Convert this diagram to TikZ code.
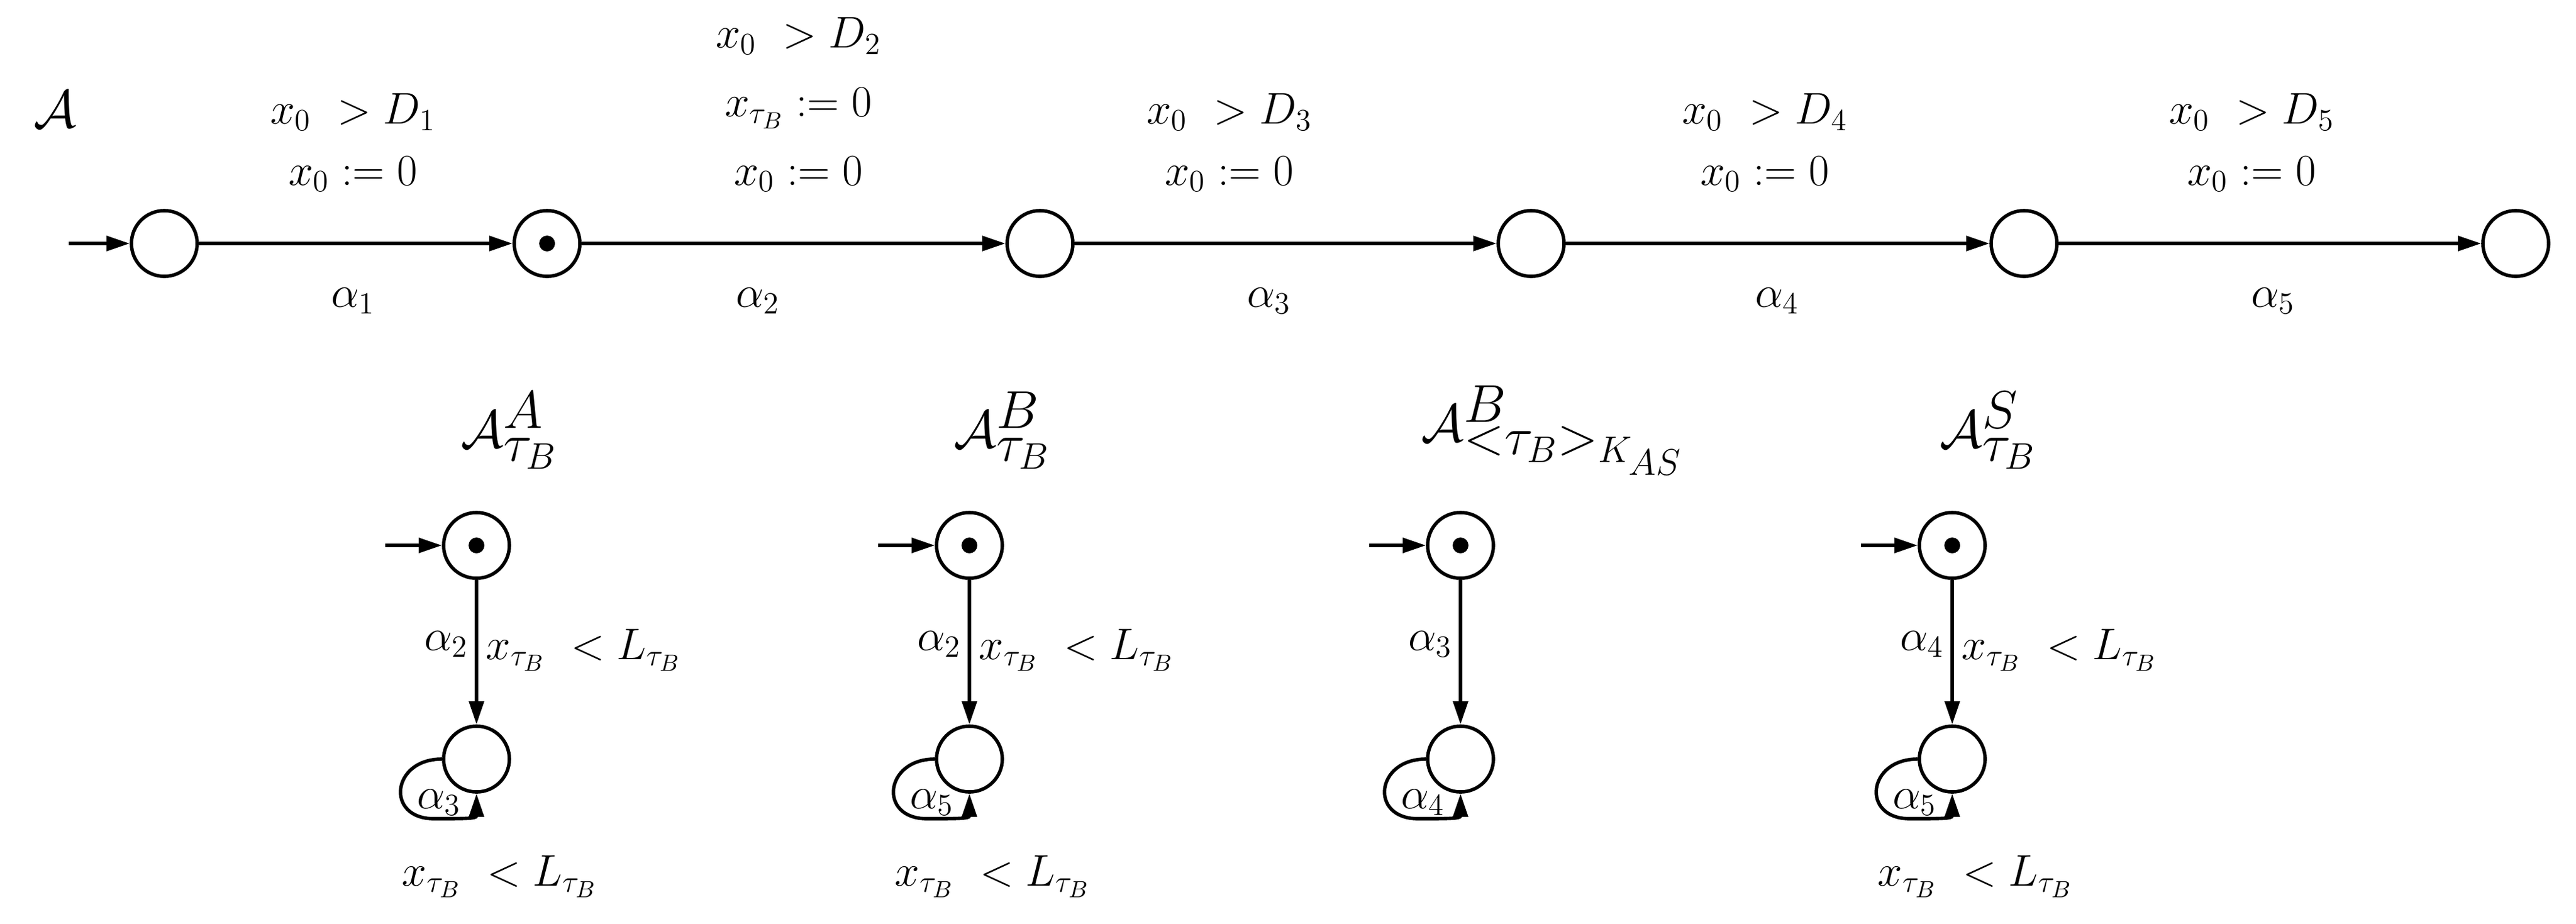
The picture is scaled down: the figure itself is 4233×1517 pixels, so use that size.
\documentclass[tikz,border=0pt]{standalone}
\usetikzlibrary{arrows.meta}
\begin{document}
\begin{tikzpicture}[x=0.01cm,y=-0.01cm,
  st/.style={circle,draw,line width=1.6pt,minimum size=1.08cm,inner sep=0pt},
  arr/.style={-{Triangle[length=0.38cm,width=0.24cm]},line width=1.6pt},
  lbl/.style={font=\fontsize{21}{25}\selectfont,inner sep=2pt},
  ttl/.style={font=\fontsize{34}{40}\selectfont,inner sep=0pt}]
\useasboundingbox (0,0) rectangle (4233,1517);
% top automaton
\node[ttl] (T) at (90,180) {$\mathcal{A}$};
\foreach \i/\x in {0/270,1/899,2/1709,3/2516,4/3326,5/4134}{\node[st] (t\i) at (\x,400) {};}
\fill (t1.center) circle (0.13cm);
\coordinate (ti) at (113,400);
\draw[arr] (ti) -- (t0);
\foreach \a/\b in {0/1,1/2,2/3,3/4,4/5}{\draw[arr] (t\a) -- (t\b);}
\node[lbl] (e1a) at (580,184) {$x_0\ >D_1$};
\node[lbl] (e1b) at (580,286) {$x_0 := 0$};
\node[lbl] (e2a) at (1312,59) {$x_0\ >D_2$};
\node[lbl] (e2b) at (1312,178) {$x_{\tau_B} := 0$};
\node[lbl] (e2c) at (1312,286) {$x_0 := 0$};
\node[lbl] (e3a) at (2020,184) {$x_0\ >D_3$};
\node[lbl] (e3b) at (2020,286) {$x_0 := 0$};
\node[lbl] (e4a) at (2900,184) {$x_0\ >D_4$};
\node[lbl] (e4b) at (2900,286) {$x_0 := 0$};
\node[lbl] (e5a) at (3700,184) {$x_0\ >D_5$};
\node[lbl] (e5b) at (3700,286) {$x_0 := 0$};
\node[lbl] (a1) at (580,494) {$\alpha_1$};
\node[lbl] (a2) at (1245,494) {$\alpha_2$};
\node[lbl] (a3) at (2085,494) {$\alpha_3$};
\node[lbl] (a4) at (2920,494) {$\alpha_4$};
\node[lbl] (a5) at (3735,494) {$\alpha_5$};
% bottom automata
\foreach \k/\x/\e/\l in {1/783/2/3,2/1593/2/5,3/2400/3/4,4/3208/4/5}{
  \node[st] (u\k) at (\x,896) {};
  \fill (u\k.center) circle (0.13cm);
  \node[st] (v\k) at (\x,1247) {};
  \coordinate (ui\k) at (\x-150,896);
  \draw[arr] (ui\k) -- (u\k);
  \draw[arr] (u\k) -- (v\k);
  \node[lbl,anchor=east] (ea\k) at (\x-6,1058) {$\alpha_{\e}$};
  \draw[arr] (v\k.west) .. controls (\x-140,1247) and (\x-150,1345) .. (\x-70,1345) .. controls (\x-20,1345) and (\x,1345) .. (v\k.south);
  \node[lbl] (la\k) at (\x-62,1318) {$\alpha_{\l}$};
}
\foreach \k/\x in {1/783,2/1593,4/3208}{
  \node[lbl,anchor=west] (g\k) at (\x+8,1068) {$x_{\tau_B}\ <L_{\tau_B}$};
  \node[lbl,anchor=west] (h\k) at (\x-130,1440) {$x_{\tau_B}\ <L_{\tau_B}$};
}
\node[ttl] (s1) at (837,707) {$\mathcal{A}^{A}_{\tau_B}$};
\node[ttl] (s2) at (1647,707) {$\mathcal{A}^{B}_{\tau_B}$};
\node[ttl,anchor=west] (s3) at (2335,707) {$\mathcal{A}^{B}_{<\tau_B>_{K_{AS}}}$};
\node[ttl] (s4) at (3267,707) {$\mathcal{A}^{S}_{\tau_B}$};
\end{tikzpicture}
\end{document}
